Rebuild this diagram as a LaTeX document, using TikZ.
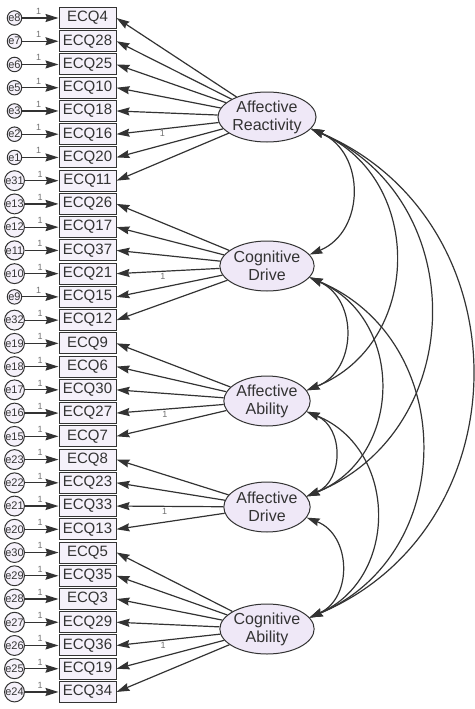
\documentclass[tikz,border=0pt]{standalone}
\usepackage{fontspec}
\setmainfont{Liberation Sans}
\usetikzlibrary{arrows.meta, shapes.geometric}
\definecolor{boxfill}{HTML}{F5F1FA}
\definecolor{latfill}{HTML}{EFE8F7}
\definecolor{ink}{HTML}{333333}

\tikzset{
    item/.style={draw=ink, fill=boxfill, line width=1pt, minimum width=57pt, minimum height=21pt, inner sep=0pt, text=ink, font=\fontsize{15}{16}\selectfont},
    latent/.style={ellipse, draw=ink, fill=latfill, line width=1pt, minimum width=80pt, minimum height=50pt, inner sep=0pt, align=center, text=ink, font=\fontsize{16}{18}\selectfont},
    err/.style={circle, draw=ink, fill=boxfill, line width=1pt, minimum size=13.5pt, inner sep=0pt, text=ink, font=\fontsize{11}{11}\selectfont},
    loading/.style={-{Stealth[length=13pt, width=8pt, inset=1.5pt]}, ink, line width=1.2pt},
    covar/.style={{Stealth[length=13pt, width=8pt, inset=1.5pt]}-{Stealth[length=13pt, width=8pt, inset=1.5pt]}, ink, line width=1.2pt, bend left=67, looseness=1.22},
    one/.style={text=ink!70, inner sep=1pt, font=\fontsize{9}{9}\selectfont}
}

\begin{document}
\begin{tikzpicture}[x=1pt, y=-1pt]
    \useasboundingbox (0, 0) rectangle (474, 709);

    % Observed items with their error terms
    \foreach \name/\err [count=\i from 0] in {4/8, 28/7, 25/6, 10/5, 18/3, 16/2, 20/1, 11/31,
        26/13, 17/12, 37/11, 21/10, 15/9, 12/32,
        9/19, 6/18, 30/17, 27/16, 7/15,
        8/23, 23/22, 33/21, 13/20,
        5/30, 35/29, 3/28, 29/27, 36/26, 19/25, 34/24} {
        \node[item] (ECQ\name) at (87.5, {18+23.24*\i}) {ECQ\name};
        \node[err] (e\err) at (14.5, {18+23.24*\i}) {e\err};
        \draw[loading] (e\err) -- (ECQ\name) node[pos=0.45, above=2pt, one] {1};
    }

    % Latent factors
    \node[latent] (AR) at (267, 117) {Affective\\Reactivity};
    \node[latent] (CD) at (267, 266) {Cognitive\\Drive};
    \node[latent] (AA) at (267, 401) {Affective\\Ability};
    \node[latent] (AD) at (267, 507) {Affective\\Drive};
    \node[latent] (CA) at (267, 629) {Cognitive\\Ability};

    % Loadings
    \foreach \n in {4, 28, 25, 10, 18, 20, 11}
        \draw[loading] (AR) -- (ECQ\n.east);
    \draw[loading] (AR) -- (ECQ16.east) node[pos=0.55, below, one] {1};
    \foreach \n in {26, 17, 37, 15, 12}
        \draw[loading] (CD) -- (ECQ\n.east);
    \draw[loading] (CD) -- (ECQ21.east) node[pos=0.55, below, one] {1};
    \foreach \n in {9, 6, 30, 7}
        \draw[loading] (AA) -- (ECQ\n.east);
    \draw[loading] (AA) -- (ECQ27.east) node[pos=0.55, below, one] {1};
    \foreach \n in {8, 23, 13}
        \draw[loading] (AD) -- (ECQ\n.east);
    \draw[loading] (AD) -- (ECQ33.east) node[pos=0.55, below, one] {1};
    \foreach \n in {5, 35, 3, 29, 19, 34}
        \draw[loading] (CA) -- (ECQ\n.east);
    \draw[loading] (CA) -- (ECQ36.east) node[pos=0.55, below, one] {1};

    % Covariances
    \draw[covar] (AR.-15) to (CD.15);
    \draw[covar] (AR.-15) to (AA.15);
    \draw[covar] (AR.-15) to (AD.15);
    \draw[covar] (AR.-15) to (CA.15);
    \draw[covar] (CD.-15) to (AA.15);
    \draw[covar] (CD.-15) to (AD.15);
    \draw[covar] (CD.-15) to (CA.15);
    \draw[covar] (AA.-15) to (AD.15);
    \draw[covar] (AA.-15) to (CA.15);
    \draw[covar] (AD.-15) to (CA.15);
\end{tikzpicture}
\end{document}
